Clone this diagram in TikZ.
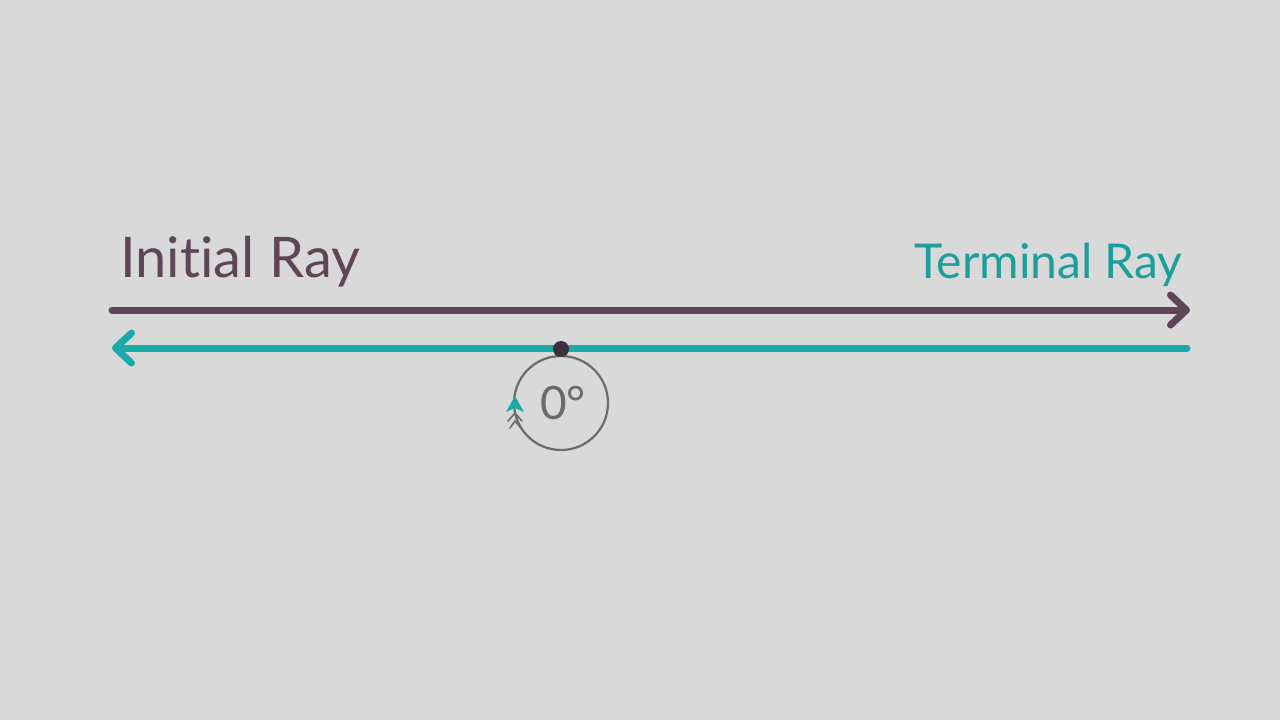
\documentclass[tikz,border=0pt]{standalone}
\usepackage{fontspec}
\setmainfont{Lato}[Ligatures=NoCommon]
\usetikzlibrary{positioning}
\usetikzlibrary{arrows.meta}
\definecolor{plum}{HTML}{5E4656}
\definecolor{rayteal}{HTML}{19AAA7}
\definecolor{labelteal}{HTML}{1C9F9C}
\definecolor{anglegray}{HTML}{6B6B6B}
\definecolor{vertexdark}{HTML}{3D2F3E}
\definecolor{paper}{HTML}{D9D9D9}

\begin{document}
\begin{tikzpicture}[x=0.5pt,y=-0.5pt,
rayline/.style={line width=3.5pt, line cap=round, -{Straight Barb[length=8pt,width=15pt,line cap=round,line join=round]}},
raylabel/.style={inner sep=0pt},
vertexnode/.style={circle, fill=vertexdark, minimum size=8pt, inner sep=0pt},
anglenode/.style={circle, draw=anglegray, line width=1.1pt, minimum size=47pt, inner sep=0pt, text=anglegray, font=\fontsize{23}{25}\selectfont},
]
%Background
\fill[paper] (0,0) rectangle (1280,720);
\useasboundingbox (0,0) rectangle (1280,720);

%Nodes
\coordinate (initstart) at (112,310);
\coordinate (initend)   at (1190,310);
\coordinate (termstart) at (1187,348);
\coordinate (termend)   at (112,348);
\node[raylabel, anchor=base west, text=plum, font=\fontsize{28}{30}\selectfont] (initlabel) at (120,277) {Initial Ray};
\node[raylabel, anchor=base east, text=labelteal, font=\fontsize{24}{26}\selectfont] (termlabel) at (1183,278) {Terminal Ray};
\node[anglenode] (angle) at (561,403) {\hspace{2pt}0°};

%Lines
\draw[rayline, draw=plum] (initstart) -- (initend);
\draw[rayline, draw=rayteal] (termstart) -- (termend);
\node[vertexnode] (vertex) at (561,349) {};

%Turn mark
\fill[rayteal] (506,412) -- (515,396) -- (524,412) -- (515,408) -- cycle;
\draw[anglegray, line width=0.8pt, line cap=round] (508,421) -- (515,413) -- (522,421);
\draw[anglegray, line width=0.8pt, line cap=round] (510,428) -- (515,421) -- (521,428);
\end{tikzpicture}
\end{document}
